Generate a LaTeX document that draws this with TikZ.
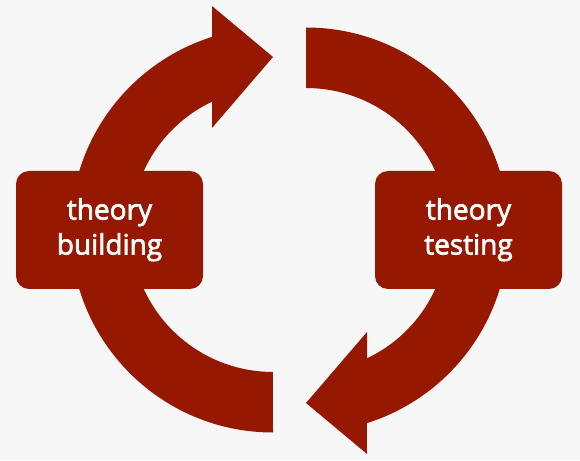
\documentclass[tikz,border=0pt]{standalone}
\usepackage{fontspec}
\setmainfont{Open Sans}
\newfontfamily\boxfont{Open Sans}[FakeBold=2.4]
\definecolor{arrowred}{RGB}{150,24,0}
\definecolor{bgcol}{RGB}{247,247,247}
\newcommand{\boxtext}[2]{\raisebox{-4pt}{\begin{tabular}{@{}c@{}}#1\\#2\end{tabular}}}
\begin{document}
\begin{tikzpicture}[x=1pt,y=1pt,
  arrowshape/.style={fill=arrowred},
  box/.style={fill=arrowred, rounded corners=13pt, minimum width=187pt, minimum height=118pt,
    text=white, font=\boxfont\fontsize{28}{35}\selectfont, align=center, inner sep=0pt}]
\fill[bgcol] (0,0) rectangle (580,460);
\useasboundingbox (0,0) rectangle (580,460);
% left arrow (theory building -> theory testing)
\fill[arrowshape] (273,27.5) arc[start angle=-90, end angle=-252.5, radius=202.5]
  -- (212,454) -- (273,403) -- (212,332) -- (212,358.3)
  arc[start angle=115.4, end angle=270, radius=142] -- cycle;
% right arrow (point-symmetric copy)
\begin{scope}[rotate around={180:(289.5,230)}]
\fill[arrowshape] (273,27.5) arc[start angle=-90, end angle=-252.5, radius=202.5]
  -- (212,454) -- (273,403) -- (212,332) -- (212,358.3)
  arc[start angle=115.4, end angle=270, radius=142] -- cycle;
\end{scope}
\node[box] (build) at (109.5,230) {\boxtext{theory}{building}};
\node[box] (test) at (468.5,230) {\boxtext{theory}{testing}};
\end{tikzpicture}
\end{document}
